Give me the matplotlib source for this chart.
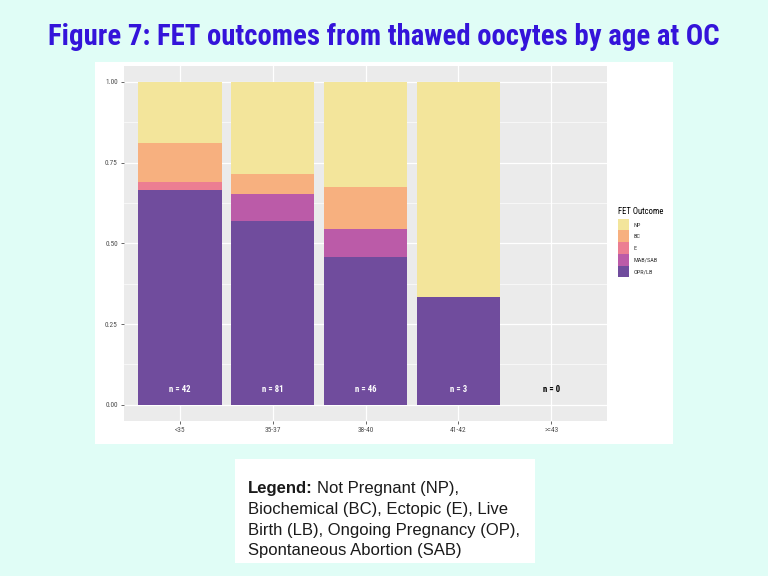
import matplotlib.pyplot as plt
from matplotlib.patches import Rectangle, Patch
from matplotlib import font_manager
import numpy as np

# data
ages = ["<35", "35-37", "38-40", "41-42", ">=43"]
outcomes = ["OPR/LB", "MAB/SAB", "E", "BC", "NP"]
opr_lb = [28, 46, 21, 1, 0]
mab_sab = [0, 7, 4, 0, 0]
ectopic = [1, 0, 0, 0, 0]
bc = [5, 5, 6, 0, 0]
np_ = [8, 23, 15, 2, 0]
colors = {"NP": "#F3E59B", "BC": "#F7B07F", "E": "#EC7E92",
          "MAB/SAB": "#BB5BA8", "OPR/LB": "#704C9D"}

counts = np.array([opr_lb, mab_sab, ectopic, bc, np_], dtype=float)
totals = counts.sum(axis=0)
frac = np.divide(counts, totals, out=np.zeros_like(counts), where=totals > 0)

fig = plt.figure(figsize=(7.68, 5.76), dpi=100)
fig.patch.set_facecolor("#E0FDF6")
renderer = fig.canvas.get_renderer()

W, H = 768, 576

# narrow family for the title and the small ggplot text
names = {f.name for f in font_manager.fontManager.ttflist}
narrow = "DejaVu Sans"
for cand in ["Roboto Condensed", "Liberation Sans Narrow", "Open Sans Condensed",
             "Noto Sans Condensed", "DejaVu Sans Condensed"]:
    if cand in names:
        narrow = cand
        break


def fbox(x0, y0, x1, y1):
    return [x0 / W, 1 - y1 / H, (x1 - x0) / W, (y1 - y0) / H]


# white background of the pasted ggplot image
bg = fig.add_axes(fbox(95, 62, 673, 444), zorder=0)
bg.set_facecolor("white")
bg.set_xticks([])
bg.set_yticks([])
for s in bg.spines.values():
    s.set_visible(False)

ax = fig.add_axes(fbox(124, 65.7, 607, 421), zorder=1)
ax.set_facecolor("#EBEBEB")
x = np.arange(1, len(ages) + 1)
bottom = np.zeros(len(ages))
for name, row in zip(outcomes, frac):
    ax.bar(x, row, bottom=bottom, width=0.9, color=colors[name],
           edgecolor="none", zorder=3)
    bottom += row

for xi, n in zip(x, totals):
    ax.text(xi, 0.046, f"n = {int(n)}", ha="center", va="center",
            fontsize=6.3, fontweight="bold", family=narrow,
            color="white" if n > 0 else "black", zorder=4)

ax.set_xlim(0.4, 5.6)
ax.set_ylim(-0.05, 1.05)
ax.set_xticks(x)
ax.set_xticklabels(ages, family=narrow)
ax.set_yticks([0, 0.25, 0.5, 0.75, 1.0])
ax.set_yticklabels(["0.00", "0.25", "0.50", "0.75", "1.00"], family=narrow)
ax.set_yticks([0.125, 0.375, 0.625, 0.875], minor=True)
ax.grid(which="major", color="white", linewidth=0.9, zorder=1)
ax.grid(which="minor", axis="y", color="white", linewidth=0.45, zorder=1)
ax.set_axisbelow(True)
ax.tick_params(which="major", length=2.5, width=0.6, color="#4D4D4D",
               labelsize=5.3, labelcolor="#4D4D4D", pad=2)
ax.tick_params(which="minor", length=0)
for s in ax.spines.values():
    s.set_visible(False)

legend_keys = ["NP", "BC", "E", "MAB/SAB", "OPR/LB"]
handles = [Patch(facecolor=colors[k], edgecolor="none") for k in legend_keys]
leg = ax.legend(handles, legend_keys, title="FET Outcome",
                loc="upper left", bbox_to_anchor=(618 / W, 1 - 207 / H),
                bbox_transform=fig.transFigure, frameon=False,
                prop={"family": narrow, "size": 4.5},
                title_fontproperties={"family": narrow, "size": 6.2},
                handlelength=1.75, handleheight=2.5,
                handletextpad=0.7, labelspacing=0.0, borderpad=0.0,
                borderaxespad=0.0)
leg._legend_box.align = "left"
leg._legend_box.sep = 2
for t in leg.get_texts():
    t.set_color("#333333")

title = fig.text(0.5, 1 - 37 / H, "Figure 7: FET outcomes from thawed oocytes by age at OC",
                 ha="center", va="center", fontsize=27, fontweight="bold",
                 family=narrow, color="#3414DA")
tw = title.get_window_extent(renderer).width
if tw > 672:
    title.set_fontsize(27 * 672 / tw)

# text box under the chart
fig.patches.append(Rectangle((235 / W, 1 - 563 / H), (535 - 235) / W, (563 - 459) / H,
                             transform=fig.transFigure, facecolor="white",
                             edgecolor="none", zorder=0))
fs = 12
lead = fig.text(248 / W, 1 - 493 / H, "Legend:", fontsize=fs, fontweight="bold",
                family="Liberation Sans", va="baseline", color="#1A1A1A")
lx = lead.get_window_extent(renderer).x1
fig.text((lx + 4) / W, 1 - 493 / H, "Not Pregnant (NP),", fontsize=fs,
         family="Liberation Sans", va="baseline", color="#1A1A1A")
lines = ["Biochemical (BC), Ectopic (E), Live",
         "Birth (LB), Ongoing Pregnancy (OP),",
         "Spontaneous Abortion (SAB)"]
for i, line in enumerate(lines):
    fig.text(248 / W, 1 - (514 + 20.5 * i) / H, line, fontsize=fs,
             family="Liberation Sans", va="baseline", color="#1A1A1A")

fig.savefig("out.png", dpi=100, facecolor=fig.get_facecolor())
